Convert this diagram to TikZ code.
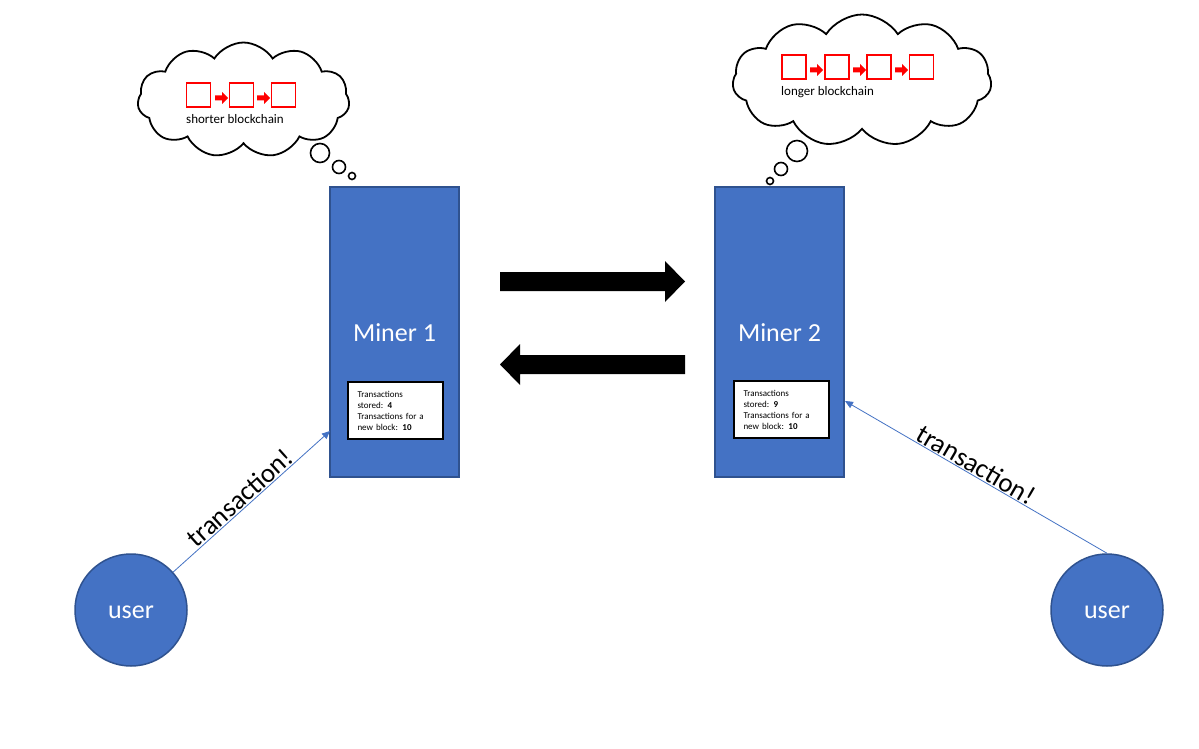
\documentclass[tikz,border=0pt]{standalone}
\usepackage{fontspec}
\setmainfont{Carlito}
\usetikzlibrary{arrows.meta,shapes.symbols}
\definecolor{offblue}{HTML}{4472C4}
\definecolor{offborder}{HTML}{2F528F}
\begin{document}
\begin{tikzpicture}[x=1pt,y=-1pt,
  miner/.style={draw=offborder,line width=1.5pt,fill=offblue,minimum width=129pt,minimum height=290pt,inner sep=0pt},
  whitelabel/.style={text=white,font=\fontsize{26}{30}\selectfont},
  user/.style={circle,draw=offborder,line width=1.5pt,fill=offblue,minimum size=112pt,inner sep=0pt},
  infobox/.style={draw=black,line width=2pt,fill=white,minimum width=95pt,minimum height=57pt,text width=76pt,inner xsep=9.5pt,align=left,font=\fontsize{9}{11}\selectfont},
  thought/.style={cloud,cloud puffs=11,cloud puff arc=115,draw=black,line width=1.8pt,fill=white,aspect=1.8,inner sep=0pt},
  bubble/.style={circle,draw=black,line width=1.6pt,fill=white,inner sep=0pt},
  txline/.style={draw=offblue,line width=0.8pt,-{Triangle[length=8pt,width=7pt]}},
  txlabel/.style={font=\fontsize{27}{30}\selectfont,inner sep=1pt},
  blk/.style={draw=red,line width=1.6pt,minimum size=24pt,inner sep=0pt},
  chainlabel/.style={font=\fontsize{13}{15}\selectfont,inner sep=0pt}
]
\useasboundingbox (0,0) rectangle (1199,749);
\fill[white] (0,0) rectangle (1199,749);

% miners
\node[miner] (m1) at (394.5,332) {};
\node[whitelabel] (m1t) at (394.5,333) {Miner 1};
\node[miner] (m2) at (779.5,332) {};
\node[whitelabel] (m2t) at (779.5,333) {Miner 2};

% info boxes
\node[infobox] (b1) at (395.5,410.5) {Transactions\\stored: \textbf{4}\\Transactions for a\\new block: \textbf{10}};
\node[infobox] (b2) at (781.5,409.5) {Transactions\\stored: \textbf{9}\\Transactions for a\\new block: \textbf{10}};

% big arrows
\fill[black] (500,272) -- (665,272) -- (665,261) -- (685,281.5) -- (665,302) -- (665,291) -- (500,291) -- cycle;
\fill[black] (685,355) -- (520,355) -- (520,344) -- (500,364.5) -- (520,385) -- (520,374) -- (685,374) -- cycle;

% users
\node[user] (u1) at (131,610) {};
\node[whitelabel] (u1t) at (131,612) {user};
\node[user] (u2) at (1107,610) {};
\node[whitelabel] (u2t) at (1107,612) {user};

% transactions
\coordinate (t1) at (330,431);
\coordinate (t2) at (845,401);
\draw[txline] (u1) -- (t1) node[pos=0.47,sloped,above,txlabel] {transaction!};
\draw[txline,{Triangle[length=8pt,width=7pt]}-] (t2) -- (u2.north) node[pos=0.48,sloped,above,txlabel] {transaction!};

% left thought cloud
\node[thought,minimum width=212pt,minimum height=115pt] (c1) at (243.5,100) {};
\node[bubble,minimum size=19pt] (c1a) at (320,153) {};
\node[bubble,minimum size=13pt] (c1b) at (339,167) {};
\node[bubble,minimum size=7pt] (c1c) at (352,176) {};
\node[blk] (l1) at (198.5,95) {};
\node[blk] (l2) at (241.5,95) {};
\node[blk] (l3) at (283.5,95) {};
\fill[red] (215,95.5) -- (222,95.5) -- (222,92) -- (228,98) -- (222,104) -- (222,100.5) -- (215,100.5) -- cycle;
\fill[red] (257,95.5) -- (264,95.5) -- (264,92) -- (270,98) -- (264,104) -- (264,100.5) -- (257,100.5) -- cycle;
\node[chainlabel,anchor=west] (s1) at (186,119) {shorter blockchain};

% right thought cloud
\node[thought,minimum width=259pt,minimum height=132pt] (c2) at (862,80.5) {};
\node[bubble,minimum size=21pt] (c2a) at (797,151) {};
\node[bubble,minimum size=13pt] (c2b) at (781,169) {};
\node[bubble,minimum size=7pt] (c2c) at (770,181) {};
\node[blk] (r1) at (794,67) {};
\node[blk] (r2) at (837,67) {};
\node[blk] (r3) at (879,67) {};
\node[blk] (r4) at (921.5,67) {};
\fill[red] (810,67.5) -- (817,67.5) -- (817,64) -- (823,70) -- (817,76) -- (817,72.5) -- (810,72.5) -- cycle;
\fill[red] (853,67.5) -- (860,67.5) -- (860,64) -- (866,70) -- (860,76) -- (860,72.5) -- (853,72.5) -- cycle;
\fill[red] (895,67.5) -- (902,67.5) -- (902,64) -- (908,70) -- (902,76) -- (902,72.5) -- (895,72.5) -- cycle;
\node[chainlabel,anchor=west] (s2) at (781,92) {longer blockchain};
\end{tikzpicture}
\end{document}
